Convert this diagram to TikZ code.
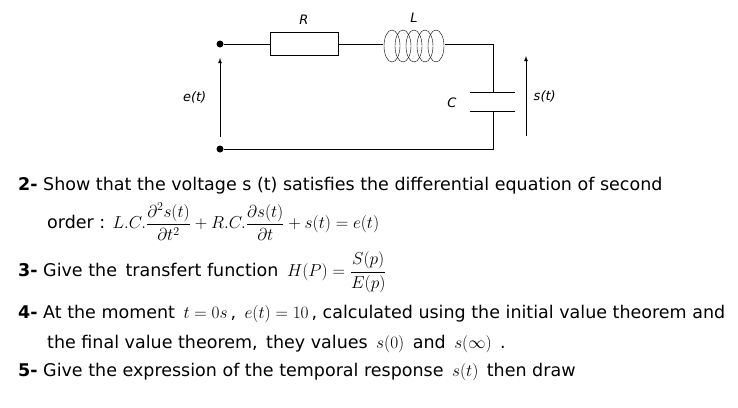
\documentclass[tikz,border=0pt]{standalone}
\usepackage{amsmath}
\usepackage{fontspec}
\setmainfont{DejaVu Sans}
\tikzset{
  wire/.style  = { thin },
  term/.style  = { circle, fill, inner sep=0pt, minimum size=7pt },
  volt/.style  = { -latex, thick },
  line/.style  = { anchor=west, inner sep=0pt, font=\fontsize{17.5}{20}\selectfont },
  lbl/.style   = { font=\itshape\fontsize{13}{15}\selectfont }
}
\begin{document}
\begin{tikzpicture}[x=1pt,y=-1pt]
    \useasboundingbox (0,0) rectangle (738,407);

    % circuit
    \node[term] (ina)  at (220,44)  {};
    \node[term] (inb)  at (220,149) {};
    \node[draw, minimum width=68pt, minimum height=23pt, inner sep=0pt] (res) at (304,44) {};
    \node[lbl] (rlab) at (304,20) {R};
    \coordinate (la) at (383,44);
    \coordinate (lb) at (445,44);
    \node[lbl] (llab) at (414,18) {L};
    \coordinate (ctop) at (493,44);
    \coordinate (cpa)  at (493,92);
    \coordinate (cpb)  at (493,111);
    \coordinate (cbot) at (493,149);
    \node[lbl] (clab) at (452,103) {C};

    \draw[wire] (ina) -- (res.west);
    \draw[wire] (res.east) -- (la);
    \foreach \i in {0,...,4}
      \draw[wire] (392+11*\i,46) ellipse (8 and 16);
    \draw[wire] (lb) -- (ctop) -- (cpa);
    \draw[thick] (470,92) -- (515,92);
    \draw[thick] (470,111) -- (515,111);
    \draw[wire] (cpb) -- (cbot) -- (inb);

    \draw[volt] (220,137) -- node[lbl, left=10pt] {e(t)} (220,58);
    \draw[volt] (526,136) -- node[lbl, right=4pt] {s(t)} (526,56);

    % questions
    \node[line] (q2) at (18,186) {\textbf{2-} Show that the voltage s (t) satisfies the differential equation of second};
    \node[line] (q2b) at (47,222) {order : $L.C.\dfrac{\partial^2 s(t)}{\partial t^2}+R.C.\dfrac{\partial s(t)}{\partial t}+s(t)=e(t)$};
    \node[line] (q3) at (18,272) {\textbf{3-} Give the\, transfert function \,$H(P)=\dfrac{S(p)}{E(p)}$};
    \node[line] (q4) at (18,314) {\textbf{4-} At the moment \,$t=0s$\,, \,$e(t)=10$\,, calculated using the initial value theorem and};
    \node[line] (q4b) at (47,344) {the final value theorem, \,they values \,$s(0)$\, and \,$s(\infty)$\, .};
    \node[line] (q5) at (18,372) {\textbf{5-} Give the expression of the temporal response \,$s(t)$\, then draw};
\end{tikzpicture}
\end{document}
